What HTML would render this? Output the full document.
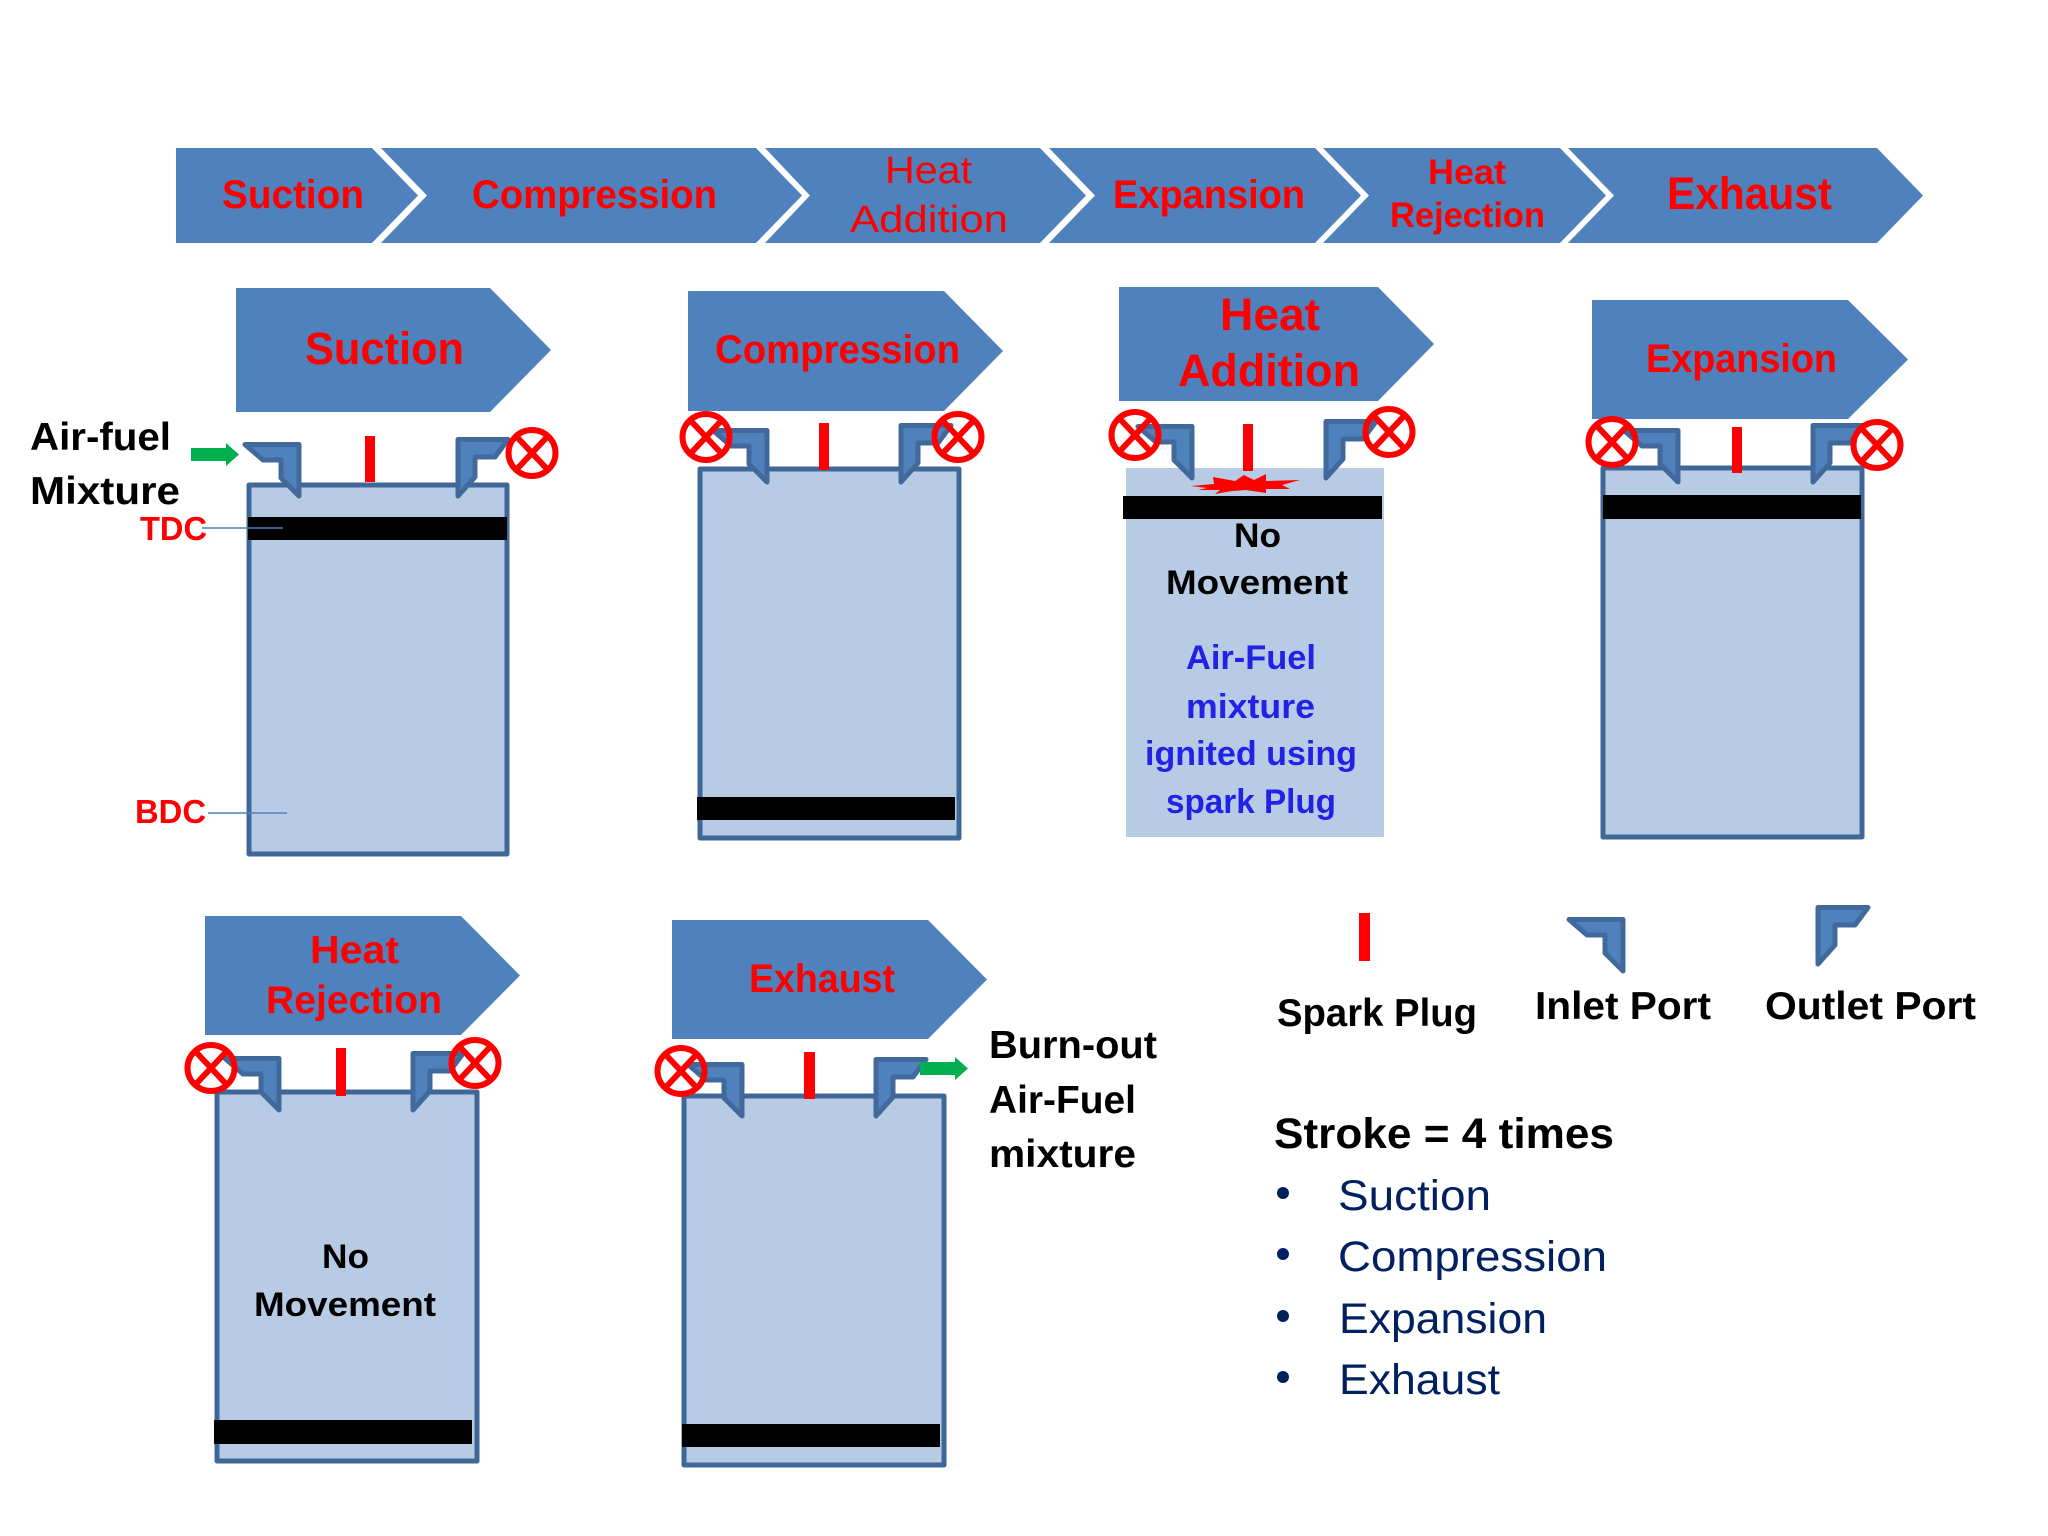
<!DOCTYPE html>
<html><head><meta charset="utf-8"><style>
html,body{margin:0;padding:0;background:#fff}
svg{display:block}
text{font-family:"Liberation Sans",sans-serif}
.b{font-weight:bold}
.r{fill:#f00}.k{fill:#000}.u{fill:#2222e6}.n{fill:#002060}
.p{fill:#4f81bd;stroke:#41699b;stroke-width:5;stroke-linejoin:round}
.c{fill:#b7cce4;stroke:#3f6797;stroke-width:5;stroke-linejoin:round}
.x{fill:none;stroke:#f00;stroke-width:6}
</style></head><body>
<svg xmlns="http://www.w3.org/2000/svg" width="2048" height="1536" viewBox="0 0 2048 1536">
<defs>
<g id="inlet"><polygon class="p" points="-55,-50.5 -1,-50.5 -1,1 -19,-17 -19,-35 -37,-35"/></g>
<g id="outlet"><polygon class="p" points="0,-55.5 50,-55.5 37,-38 17,-38 17,-18 0,1"/></g>
<g id="xc"><ellipse class="x" cx="0" cy="0" rx="23.5" ry="23"/><path class="x" d="M-15,-16L15,16M15,-16L-15,16"/></g>
</defs>
<rect width="2048" height="1536" fill="#fff"/>

<!-- top band -->
<g fill="#4f81bd">
<polygon points="176,148 372,148 418,195.5 372,243 176,243"/>
<polygon points="381,148 756,148 802,195.5 756,243 381,243 427,195.5"/>
<polygon points="765,148 1040,148 1086,195.5 1040,243 765,243 810,195.5"/>
<polygon points="1049,148 1315,148 1361,195.5 1315,243 1049,243 1095,195.5"/>
<polygon points="1323,148 1560,148 1606,195.5 1560,243 1323,243 1369,195.5"/>
<polygon points="1568,148 1877,148 1923,195.5 1877,243 1568,243 1614,195.5"/>
<!-- large labels -->
<polygon points="236,288 490,288 551,350 490,412 236,412"/>
<polygon points="688,291 944,291 1003,351 944,411 688,411"/>
<polygon points="1119,287 1378,287 1434,344 1378,401 1119,401"/>
<polygon points="1592,300 1848,300 1908,359.5 1848,419 1592,419"/>
<polygon points="205,916 461,916 520,975.5 461,1035 205,1035"/>
<polygon points="672,920 928,920 987,979.5 928,1039 672,1039"/>
</g>

<!-- top band text -->
<text class="b r" font-size="40" x="222" y="208" textLength="142" lengthAdjust="spacingAndGlyphs">Suction</text>
<text class="b r" font-size="40" x="472" y="208" textLength="245" lengthAdjust="spacingAndGlyphs">Compression</text>
<text class="r" font-size="38" x="885" y="183" textLength="87" lengthAdjust="spacingAndGlyphs">Heat</text>
<text class="r" font-size="38" x="850" y="232" textLength="158" lengthAdjust="spacingAndGlyphs">Addition</text>
<text class="b r" font-size="40" x="1113" y="208" textLength="192" lengthAdjust="spacingAndGlyphs">Expansion</text>
<text class="b r" font-size="35" x="1428" y="184" textLength="78" lengthAdjust="spacingAndGlyphs">Heat</text>
<text class="b r" font-size="35" x="1390" y="227" textLength="155" lengthAdjust="spacingAndGlyphs">Rejection</text>
<text class="b r" font-size="45" x="1667" y="209" textLength="165" lengthAdjust="spacingAndGlyphs">Exhaust</text>

<!-- large label text -->
<text class="b r" font-size="45" x="305" y="364" textLength="159" lengthAdjust="spacingAndGlyphs">Suction</text>
<text class="b r" font-size="40" x="715" y="363" textLength="245" lengthAdjust="spacingAndGlyphs">Compression</text>
<text class="b r" font-size="45" x="1220" y="330" textLength="100" lengthAdjust="spacingAndGlyphs">Heat</text>
<text class="b r" font-size="45" x="1178" y="386" textLength="182" lengthAdjust="spacingAndGlyphs">Addition</text>
<text class="b r" font-size="40" x="1646" y="372" textLength="191" lengthAdjust="spacingAndGlyphs">Expansion</text>
<text class="b r" font-size="39" x="310" y="963" textLength="89" lengthAdjust="spacingAndGlyphs">Heat</text>
<text class="b r" font-size="39" x="266" y="1013" textLength="176" lengthAdjust="spacingAndGlyphs">Rejection</text>
<text class="b r" font-size="40" x="749" y="992" textLength="146" lengthAdjust="spacingAndGlyphs">Exhaust</text>

<!-- cylinder 1 -->
<rect class="c" x="249" y="485" width="258" height="369"/>
<rect x="248" y="517" width="259" height="23" fill="#000"/>
<use href="#inlet" x="300" y="495"/><use href="#outlet" x="458" y="495"/>
<rect x="365" y="436" width="10" height="46" fill="#f00"/>
<use href="#xc" x="532" y="453"/>
<polygon fill="#00b050" points="191,448 226,448 226,443 239,454.5 226,466 226,461 191,461"/>
<line x1="202" y1="528" x2="283" y2="528" stroke="#4f81bd" stroke-width="1.5"/>
<line x1="208" y1="813" x2="287" y2="813" stroke="#4f81bd" stroke-width="1.5"/>
<text class="b k" font-size="39" x="30" y="450" textLength="141" lengthAdjust="spacingAndGlyphs">Air-fuel</text>
<text class="b k" font-size="39" x="30" y="504" textLength="150" lengthAdjust="spacingAndGlyphs">Mixture</text>
<text class="b r" font-size="33" x="140" y="540" textLength="67" lengthAdjust="spacingAndGlyphs">TDC</text>
<text class="b r" font-size="33" x="135" y="823" textLength="71" lengthAdjust="spacingAndGlyphs">BDC</text>

<!-- cylinder 2 -->
<rect class="c" x="700" y="469" width="259" height="369"/>
<rect x="697" y="797" width="258" height="23" fill="#000"/>
<use href="#inlet" x="768" y="481"/><use href="#outlet" x="901" y="481"/>
<rect x="819" y="423" width="10" height="47" fill="#f00"/>
<use href="#xc" x="706" y="437"/><use href="#xc" x="958" y="437"/>

<!-- cylinder 3 -->
<rect x="1126" y="468" width="258" height="369" fill="#b7cce4"/>
<rect x="1123" y="496" width="259" height="23" fill="#000"/>
<use href="#inlet" x="1193" y="477"/><use href="#outlet" x="1326" y="477"/>
<rect x="1243" y="424" width="10" height="47" fill="#f00"/>
<polygon fill="#f00" points="1191,486 1214,484 1213,477 1235,481 1244,475 1254,480 1266,474 1266,481 1300,480 1282,485 1290,489 1266,489 1266,493 1246,490 1232,491 1215,494 1220,490 1198,490 1207,488"/>
<use href="#xc" x="1135" y="435"/><use href="#xc" x="1389" y="432"/>
<text class="b k" font-size="34" x="1234" y="547" textLength="47" lengthAdjust="spacingAndGlyphs">No</text>
<text class="b k" font-size="34" x="1166" y="594" textLength="182" lengthAdjust="spacingAndGlyphs">Movement</text>
<text class="b u" font-size="34" x="1186" y="669" textLength="130" lengthAdjust="spacingAndGlyphs">Air-Fuel</text>
<text class="b u" font-size="34" x="1186" y="718" textLength="129" lengthAdjust="spacingAndGlyphs">mixture</text>
<text class="b u" font-size="34" x="1145" y="765" textLength="212" lengthAdjust="spacingAndGlyphs">ignited using</text>
<text class="b u" font-size="34" x="1166" y="813" textLength="170" lengthAdjust="spacingAndGlyphs">spark Plug</text>

<!-- cylinder 4 -->
<rect class="c" x="1603" y="468" width="259" height="369"/>
<rect x="1603" y="495" width="258" height="24" fill="#000"/>
<use href="#inlet" x="1679" y="481"/><use href="#outlet" x="1813" y="481"/>
<rect x="1732" y="427" width="10" height="46" fill="#f00"/>
<use href="#xc" x="1612" y="442"/><use href="#xc" x="1877" y="445"/>

<!-- cylinder 5 -->
<rect class="c" x="217" y="1092" width="260" height="369"/>
<rect x="214" y="1420" width="258" height="24" fill="#000"/>
<use href="#inlet" x="280" y="1109"/><use href="#outlet" x="413" y="1109"/>
<rect x="336" y="1048" width="10" height="48" fill="#f00"/>
<use href="#xc" x="211" y="1068"/><use href="#xc" x="475" y="1063"/>
<text class="b k" font-size="34" x="322" y="1268" textLength="47" lengthAdjust="spacingAndGlyphs">No</text>
<text class="b k" font-size="34" x="254" y="1316" textLength="182" lengthAdjust="spacingAndGlyphs">Movement</text>

<!-- cylinder 6 -->
<rect class="c" x="684" y="1096" width="260" height="369"/>
<rect x="682" y="1424" width="258" height="23" fill="#000"/>
<use href="#inlet" x="743" y="1115"/><use href="#outlet" x="876" y="1115"/>
<rect x="804" y="1052" width="11" height="47" fill="#f00"/>
<use href="#xc" x="681" y="1071"/>
<polygon fill="#00b050" points="920,1062 955,1062 955,1057 968,1068.5 955,1080 955,1075 920,1075"/>
<text class="b k" font-size="39" x="989" y="1058" textLength="168" lengthAdjust="spacingAndGlyphs">Burn-out</text>
<text class="b k" font-size="39" x="989" y="1113" textLength="147" lengthAdjust="spacingAndGlyphs">Air-Fuel</text>
<text class="b k" font-size="39" x="989" y="1167" textLength="147" lengthAdjust="spacingAndGlyphs">mixture</text>

<!-- legend -->
<rect x="1359" y="913" width="11" height="48" fill="#f00"/>
<use href="#inlet" x="1624" y="970"/><use href="#outlet" x="1818" y="963"/>
<text class="b k" font-size="39" x="1277" y="1026" textLength="200" lengthAdjust="spacingAndGlyphs">Spark Plug</text>
<text class="b k" font-size="39" x="1535" y="1019" textLength="176" lengthAdjust="spacingAndGlyphs">Inlet Port</text>
<text class="b k" font-size="39" x="1765" y="1019" textLength="211" lengthAdjust="spacingAndGlyphs">Outlet Port</text>
<text class="b k" font-size="43" x="1274" y="1148" textLength="340" lengthAdjust="spacingAndGlyphs">Stroke = 4 times</text>
<g fill="#002060">
<circle cx="1283" cy="1193" r="6"/><circle cx="1283" cy="1254" r="6"/><circle cx="1283" cy="1316" r="6"/><circle cx="1283" cy="1377" r="6"/>
</g>
<text class="n" font-size="43" x="1338" y="1210" textLength="153" lengthAdjust="spacingAndGlyphs">Suction</text>
<text class="n" font-size="43" x="1338" y="1271" textLength="269" lengthAdjust="spacingAndGlyphs">Compression</text>
<text class="n" font-size="43" x="1339" y="1333" textLength="208" lengthAdjust="spacingAndGlyphs">Expansion</text>
<text class="n" font-size="43" x="1339" y="1394" textLength="161" lengthAdjust="spacingAndGlyphs">Exhaust</text>
</svg>
</body></html>
